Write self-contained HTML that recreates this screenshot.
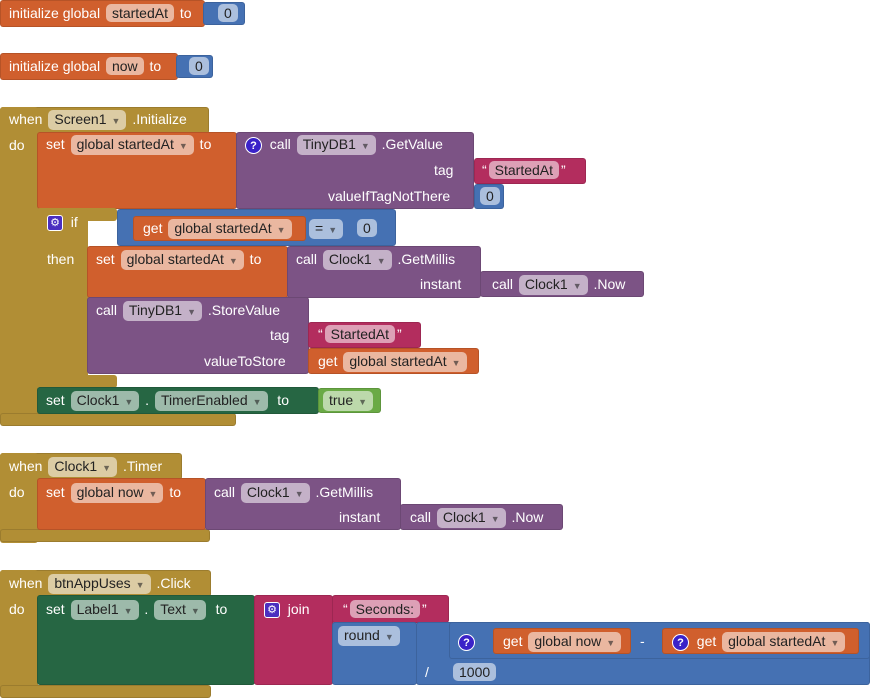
<!DOCTYPE html>
<html><head><meta charset="utf-8"><style>
body{margin:0;width:870px;height:698px;background:#fff;position:relative;overflow:hidden;font-family:"Liberation Sans",sans-serif;}
.b{position:absolute;box-sizing:border-box;border:1px solid rgba(0,0,0,.12);border-radius:3px}
.t{position:absolute;color:#fff;font-size:14px;white-space:nowrap;line-height:20px}
.f{display:inline-block;background:rgba(255,255,255,.55);color:#222;border-radius:5px;padding:0 6px;line-height:18px;margin:0 2px}
.f i{font-style:normal;font-size:9px;opacity:.6;margin-left:5px}
.g{background:#b18e35}.o{background:#d05f2d}.p{background:#7c5385}.bl{background:#4571b3}.pk{background:#b32d5e}.dg{background:#266643}.lg{background:#6aaa45}
.q{display:inline-block;width:17px;height:17px;border-radius:50%;background:#3a22c8;border:1px solid #fff;color:#fff;font-size:11px;font-weight:bold;text-align:center;line-height:17px;vertical-align:middle;box-sizing:border-box}
.gear{display:inline-block;width:16px;height:16px;border-radius:3px;background:#4b2fc0;border:1px solid #fff;color:#fff;font-size:11px;text-align:center;line-height:14px;vertical-align:middle;box-sizing:border-box}
</style></head><body>
<!-- init globals -->
<div class="b o" style="left:0;top:0;width:205px;height:27px"></div>
<div class="b bl" style="left:203px;top:2px;width:42px;height:23px"></div>
<div class="t" style="left:9px;top:3px">initialize global <span class="f">startedAt</span> to</div>
<div class="t" style="left:216px;top:3px"><span class="f">0</span></div>

<div class="b o" style="left:0;top:53px;width:178px;height:27px"></div>
<div class="b bl" style="left:176px;top:55px;width:37px;height:23px"></div>
<div class="t" style="left:9px;top:56px">initialize global <span class="f">now</span> to</div>
<div class="t" style="left:187px;top:56px"><span class="f">0</span></div>

<!-- Screen1.Initialize -->
<div class="b g" style="left:0;top:107px;width:209px;height:27px"></div>
<div class="b g" style="left:0;top:107px;width:38px;height:318px;border:none"></div>
<div class="b g" style="left:0;top:413px;width:236px;height:13px"></div>
<div class="t" style="left:9px;top:109px">when <span class="f">Screen1<i>▼</i></span> .Initialize</div>
<div class="t" style="left:9px;top:135px">do</div>

<div class="b o" style="left:37px;top:132px;width:200px;height:77px"></div>
<div class="t" style="left:46px;top:134px">set <span class="f">global startedAt<i>▼</i></span> to</div>
<div class="b p" style="left:236px;top:132px;width:238px;height:77px"></div>
<div class="t" style="left:245px;top:134px"><span class="q">?</span> &nbsp;call <span class="f">TinyDB1<i>▼</i></span> .GetValue</div>
<div class="t" style="left:434px;top:160px">tag</div>
<div class="t" style="left:328px;top:186px">valueIfTagNotThere</div>
<div class="b pk" style="left:474px;top:158px;width:112px;height:26px"></div>
<div class="t" style="left:482px;top:160px">“<span class="f">StartedAt</span>”</div>
<div class="b bl" style="left:474px;top:184px;width:30px;height:25px"></div>
<div class="t" style="left:478px;top:186px"><span class="f">0</span></div>

<div class="b g" style="left:37px;top:208px;width:80px;height:13px;border:none"></div>
<div class="b g" style="left:37px;top:208px;width:51px;height:180px;border:none"></div>
<div class="b g" style="left:37px;top:375px;width:80px;height:13px;border:none"></div>
<div class="t" style="left:47px;top:212px"><span class="gear">⚙</span> &nbsp;if</div>
<div class="t" style="left:47px;top:249px">then</div>
<div class="b bl" style="left:117px;top:209px;width:279px;height:37px"></div>
<div class="b o" style="left:133px;top:216px;width:173px;height:25px"></div>
<div class="t" style="left:143px;top:218px">get <span class="f">global startedAt<i>▼</i></span></div>
<div class="t" style="left:307px;top:218px"><span class="f">=<i>▼</i></span></div>
<div class="t" style="left:355px;top:218px"><span class="f">0</span></div>

<div class="b o" style="left:87px;top:246px;width:201px;height:52px"></div>
<div class="t" style="left:96px;top:249px">set <span class="f">global startedAt<i>▼</i></span> to</div>
<div class="b p" style="left:287px;top:246px;width:194px;height:52px"></div>
<div class="t" style="left:296px;top:249px">call <span class="f">Clock1<i>▼</i></span> .GetMillis</div>
<div class="t" style="left:420px;top:274px">instant</div>
<div class="b p" style="left:480px;top:271px;width:164px;height:26px"></div>
<div class="t" style="left:492px;top:274px">call <span class="f">Clock1<i>▼</i></span> .Now</div>

<div class="b p" style="left:87px;top:297px;width:222px;height:77px"></div>
<div class="t" style="left:96px;top:300px">call <span class="f">TinyDB1<i>▼</i></span> .StoreValue</div>
<div class="t" style="left:270px;top:325px">tag</div>
<div class="t" style="left:204px;top:351px">valueToStore</div>
<div class="b pk" style="left:308px;top:322px;width:113px;height:26px"></div>
<div class="t" style="left:318px;top:324px">“<span class="f">StartedAt</span>”</div>
<div class="b o" style="left:308px;top:348px;width:171px;height:26px"></div>
<div class="t" style="left:318px;top:351px">get <span class="f">global startedAt<i>▼</i></span></div>

<div class="b dg" style="left:37px;top:387px;width:282px;height:27px"></div>
<div class="t" style="left:46px;top:390px">set <span class="f">Clock1<i>▼</i></span> . <span class="f">TimerEnabled<i>▼</i></span> &nbsp;to</div>
<div class="b lg" style="left:318px;top:388px;width:63px;height:25px"></div>
<div class="t" style="left:321px;top:390px"><span class="f">true<i>▼</i></span></div>

<!-- Clock1.Timer -->
<div class="b g" style="left:0;top:453px;width:182px;height:27px"></div>
<div class="b g" style="left:0;top:453px;width:38px;height:90px;border:none"></div>
<div class="b g" style="left:0;top:529px;width:210px;height:13px"></div>
<div class="t" style="left:9px;top:456px">when <span class="f">Clock1<i>▼</i></span> .Timer</div>
<div class="t" style="left:9px;top:482px">do</div>
<div class="b o" style="left:37px;top:478px;width:169px;height:52px"></div>
<div class="t" style="left:46px;top:482px">set <span class="f">global now<i>▼</i></span> to</div>
<div class="b p" style="left:205px;top:478px;width:196px;height:52px"></div>
<div class="t" style="left:214px;top:482px">call <span class="f">Clock1<i>▼</i></span> .GetMillis</div>
<div class="t" style="left:339px;top:507px">instant</div>
<div class="b p" style="left:400px;top:504px;width:163px;height:26px"></div>
<div class="t" style="left:410px;top:507px">call <span class="f">Clock1<i>▼</i></span> .Now</div>

<!-- btnAppUses.Click -->
<div class="b g" style="left:0;top:570px;width:211px;height:27px"></div>
<div class="b g" style="left:0;top:570px;width:38px;height:128px;border:none"></div>
<div class="b g" style="left:0;top:685px;width:211px;height:13px"></div>
<div class="t" style="left:9px;top:573px">when <span class="f">btnAppUses<i>▼</i></span> .Click</div>
<div class="t" style="left:9px;top:599px">do</div>
<div class="b dg" style="left:37px;top:595px;width:218px;height:90px"></div>
<div class="t" style="left:46px;top:599px">set <span class="f">Label1<i>▼</i></span> . <span class="f">Text<i>▼</i></span> &nbsp;to</div>
<div class="b pk" style="left:254px;top:595px;width:79px;height:90px"></div>
<div class="t" style="left:264px;top:599px"><span class="gear">⚙</span> &nbsp;join</div>
<div class="b pk" style="left:332px;top:595px;width:117px;height:28px"></div>
<div class="t" style="left:343px;top:599px">“<span class="f">Seconds:</span>”</div>
<div class="b bl" style="left:332px;top:622px;width:85px;height:63px"></div>
<div class="t" style="left:336px;top:625px"><span class="f">round<i>▼</i></span></div>
<div class="b bl" style="left:416px;top:622px;width:454px;height:63px"></div>
<div class="b bl" style="left:449px;top:622px;width:421px;height:37px"></div>
<div class="t" style="left:458px;top:631px"><span class="q">?</span></div>
<div class="b o" style="left:493px;top:628px;width:138px;height:26px"></div>
<div class="t" style="left:503px;top:631px">get <span class="f">global now<i>▼</i></span></div>
<div class="t" style="left:640px;top:631px">-</div>
<div class="b o" style="left:662px;top:628px;width:197px;height:26px"></div>
<div class="t" style="left:672px;top:631px"><span class="q">?</span> &nbsp;get <span class="f">global startedAt<i>▼</i></span></div>
<div class="t" style="left:425px;top:662px">/</div>
<div class="t" style="left:451px;top:662px"><span class="f">1000</span></div>
</body></html>
